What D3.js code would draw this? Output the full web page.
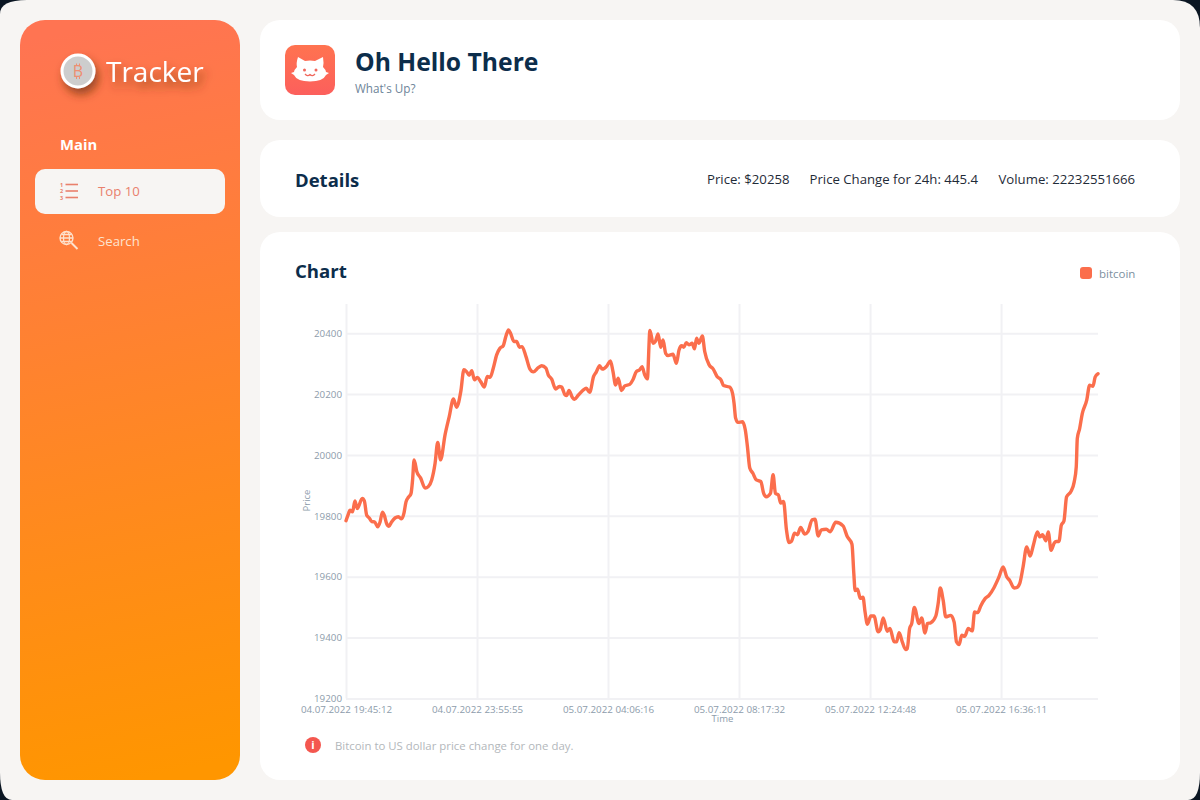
<!DOCTYPE html>
<html>
<head>
<meta charset="utf-8">
<script src="https://cdn.jsdelivr.net/npm/d3@7"></script>
<style>
html, body { margin: 0; padding: 0; background: #0b1622; overflow: hidden; }
svg { display: block; font-family: "Open Sans", sans-serif; }
</style>
</head>
<body>
<script>
const width = 1200
const height = 800

// position of each reading along the 5 minute samples of the day (0 - 287)
const sampleAt = [0,1,1.5,2.5,3.4,4.3,6.2,7,7.9,8.9,9.8,10.9,12.1,13,13.9,14.6,15.5,16.4,17.4,18.7,20,21.2,22.1,22.9,23.9,24.8,25.4,26,27,28.5,30.2,31.4,32.7,34,35,36.1,37.8,39.4,41,42.2,43.8,45,46,47,48,49,50.1,51.4,52.8,53.9,55,56.2,57.5,58.8,60,61,62,62.8,64.1,65.1,66.2,67.2,68.7,70.2,71.5,73.4,74.7,76.3,77.2,78.5,80,81.4,82.3,83.6,84.2,85.1,86.4,87.2,88.7,90.6,91.7,93,94.5,95.5,96.8,97.8,99.6,100.9,101.9,102.9,103.9,105.1,106.4,108.3,109.5,110.8,112.1,113,114,115,116,117.2,118.1,119.1,120.1,121,122,122.9,124.8,126.1,127.1,128.1,128.9,129.9,130.9,132.1,133,133.8,134.7,136,136.9,138.6,140.1,141.6,143.1,144.1,146.4,147.5,148.1,148.7,149.6,151.3,152.4,153.2,154.1,155.3,156.6,158.3,159.4,160.4,162,163,163.9,165,165.9,167,168.1,169.1,170,171.2,172.3,173.5,175.1,176.3,177.9,179,180.2,181.4,183.3,184.8,186.9,189.7,191.3,193.1,193.8,194.3,195.2,196.3,197.3,198.1,199,200.3,201.5,203.1,203.9,205,206.6,207.6,209.2,210.1,211.1,212.3,213.6,214.2,215.1,215.9,216.9,218.7,219.7,221,221.9,223.2,225.1,226,226.8,227.9,228.9,230.8,232.1,233,234,235,236.1,237.5,239,239.9,241.1,242.2,243.9,245.4,247.3,249.2,250.8,252.2,253.3,255,255.9,257.1,258.4,259.8,261.1,262.3,263.9,264.8,265.8,267.1,268,269.1,270.3,271.1,272.1,273,274,275,276.8,277.9,278.7,279.1,280,281,282.7,283.8,285.1,285.9,287]

const priceValues = [19784,19808,19819,19813,19849,19824,19857,19849,19802,19793,19781,19780,19764,19780,19812,19802,19775,19766,19780,19793,19797,19790,19808,19846,19862,19873,19917,19984,19946,19924,19891,19896,19918,19973,20041,19984,20066,20126,20184,20157,20208,20280,20274,20262,20277,20247,20255,20241,20223,20258,20255,20285,20329,20351,20359,20389,20411,20400,20373,20373,20354,20356,20323,20282,20273,20287,20293,20285,20263,20249,20217,20225,20223,20197,20195,20212,20189,20183,20197,20214,20219,20206,20258,20272,20293,20282,20293,20309,20274,20230,20252,20212,20227,20232,20247,20274,20280,20290,20263,20250,20409,20367,20373,20398,20354,20378,20334,20327,20331,20301,20345,20359,20354,20369,20362,20367,20349,20384,20367,20391,20340,20296,20283,20258,20247,20228,20223,20203,20170,20121,20107,20109,20082,20028,19957,19940,19918,19913,19874,19863,19874,19935,19874,19869,19842,19847,19754,19712,19716,19743,19738,19762,19740,19748,19787,19789,19734,19754,19756,19748,19779,19767,19732,19707,19612,19555,19559,19529,19533,19484,19444,19471,19471,19419,19426,19465,19421,19430,19386,19386,19416,19386,19361,19364,19430,19446,19499,19446,19465,19415,19446,19449,19471,19512,19563,19523,19468,19473,19451,19386,19377,19408,19404,19430,19422,19484,19482,19503,19528,19539,19564,19599,19632,19599,19588,19563,19564,19577,19632,19698,19668,19703,19747,19731,19738,19718,19747,19687,19711,19716,19716,19769,19783,19862,19882,19911,19961,20054,20087,20136,20180,20229,20226,20256,20267]

const xTickAt = [0,50,100,150,200,250]
const xTickLabels = ["04.07.2022 19:45:12","04.07.2022 23:55:55","05.07.2022 04:06:16","05.07.2022 08:17:32","05.07.2022 12:24:48","05.07.2022 16:36:11"]
const yTicks = [19200,19400,19600,19800,20000,20200,20400]
const detailTexts = ["Price: $20258","Price Change for 24h: 445.4","Volume: 22232551666"]

const colors = {
    page: "#f7f5f3",
    card: "#fff",
    navy: "#0c2d4b",
    line: "#fb6e4c",
    grid: "#f1f1f4",
    axisText: "#8d9cab",
    navText: "#e9806c",
    navSoft: "#fde3cf"
}

const svg = d3.select("body").append("svg")
    .attr("width", width)
    .attr("height", height)

const defs = svg.append("defs")

const sideGrad = defs.append("linearGradient").attr("id", "side")
    .attr("x1", 0.47).attr("y1", 0).attr("x2", 0.53).attr("y2", 1)
sideGrad.append("stop").attr("offset", "0%").attr("stop-color", "#ff7452")
sideGrad.append("stop").attr("offset", "100%").attr("stop-color", "#ff9600")

const iconGrad = defs.append("linearGradient").attr("id", "icon")
    .attr("x1", 0).attr("y1", 0).attr("x2", 0).attr("y2", 1)
iconGrad.append("stop").attr("offset", "0%").attr("stop-color", "#ff7350")
iconGrad.append("stop").attr("offset", "100%").attr("stop-color", "#fc5f5c")

const shadow = defs.append("filter").attr("id", "soft")
    .attr("x", "-40%").attr("y", "-60%").attr("width", "180%").attr("height", "240%")
shadow.append("feDropShadow")
    .attr("dx", 3).attr("dy", 6).attr("stdDeviation", 5)
    .attr("flood-color", "#6e3018").attr("flood-opacity", .7)

// window shape, corners show through
svg.append("path")
    .attr("fill", colors.page)
    .attr("d", "M27 0 H1173 Q1200 0 1200 28 V772 Q1200 800 1188 800 H12 Q0 800 0 772 V14 Q0 0 27 0 Z")

const card = (x, y, w, h, r, fill) => svg.append("rect")
    .attr("x", x).attr("y", y).attr("width", w).attr("height", h)
    .attr("rx", r).attr("fill", fill)

const label = (x, y, text, size, fill, weight) => svg.append("text")
    .attr("x", x).attr("y", y)
    .attr("font-size", size).attr("fill", fill).attr("font-weight", weight || 400)
    .text(text)

card(20, 20, 220, 760, 25, "url(#side)")
card(260, 20, 920, 100, 20, colors.card)
card(260, 140, 920, 77, 20, colors.card)
card(260, 232, 920, 548, 20, colors.card)

// sidebar logo
const logo = svg.append("g").attr("filter", "url(#soft)")
logo.append("circle").attr("cx", 78).attr("cy", 71).attr("r", 16)
    .attr("fill", "#cdcdcd").attr("stroke", "#fff").attr("stroke-width", 3)
logo.append("text").attr("x", 106).attr("y", 82)
    .attr("font-size", 28).attr("fill", "#fff").text("Tracker")
label(78, 77, "B", 16, "#ee8f72").attr("text-anchor", "middle")
svg.append("path").attr("stroke", "#ee8f72").attr("stroke-width", 1)
    .attr("d", "M76.5 63.5 V66 M79.5 63.5 V66 M76.5 76.5 V79 M79.5 76.5 V79")

label(60, 150, "Main", 14.8, "#fff", 700)

// nav
card(35, 169, 190, 45, 10, colors.page)
label(98, 196, "Top 10", 13.2, colors.navText)
label(98, 246, "Search", 13.2, colors.navSoft)

const listIcon = svg.append("g").attr("stroke", colors.navText).attr("stroke-width", 1.6)
d3.range(3).forEach(i => {
    listIcon.append("line").attr("x1", 65.5).attr("x2", 78)
        .attr("y1", 184.5 + i * 6.5).attr("y2", 184.5 + i * 6.5)
    svg.append("text").attr("x", 60).attr("y", 186.5 + i * 6.5)
        .attr("font-size", 5.5).attr("font-weight", 700).attr("fill", colors.navText)
        .text(i + 1)
})

const searchIcon = svg.append("g").attr("stroke", colors.navSoft).attr("stroke-width", 1.3).attr("fill", "none")
searchIcon.append("circle").attr("cx", 66.5).attr("cy", 238).attr("r", 6.5)
searchIcon.append("ellipse").attr("cx", 66.5).attr("cy", 238).attr("rx", 3).attr("ry", 6.5)
searchIcon.append("path").attr("d", "M60 238 H73 M61.5 234.5 H71.5 M61.5 241.5 H71.5")
searchIcon.append("line").attr("x1", 71.5).attr("y1", 243).attr("x2", 77.5).attr("y2", 249)
    .attr("stroke-width", 2)

// header
card(285, 45, 50, 50, 10, "url(#icon)")
svg.append("path").attr("fill", "#fff")
    .attr("d", "M298 57 L305 61 Q310 60 315 61 L323 57 Q324 63 323 67 Q326 70 326 72 L329 73 L326 75 Q323 81.5 310 81.5 Q297 81.5 294 75 L291 73 L294 72 Q294 70 297 67 Q296 63 298 57 Z")
svg.append("circle").attr("cx", 304.5).attr("cy", 70).attr("r", 1.5).attr("fill", "#f0675c")
svg.append("circle").attr("cx", 316).attr("cy", 70).attr("r", 1.5).attr("fill", "#f0675c")
svg.append("path").attr("fill", "none").attr("stroke", "#f0675c").attr("stroke-width", 1.2)
    .attr("d", "M305 74 Q307.5 77 310 74.5 Q312.5 77 315 74")

label(355, 71, "Oh Hello There", 24.7, colors.navy, 700)
label(355, 93, "What's Up?", 11.7, "#6d8498")

// details
label(295, 187, "Details", 18.5, colors.navy, 700)
const detailX = [707, 809.5, 998.5]
detailTexts.forEach((t, i) => label(detailX[i], 184, t, 13.2, "#1f2b38"))

// chart card
label(295, 278, "Chart", 18.6, colors.navy, 700)
card(1080, 267, 12, 12, 3, colors.line)
label(1099, 278, "bitcoin", 11.5, "#7d90a0")

const x = d3.scaleLinear().domain([0, 287]).range([346, 1098])
const y = d3.scaleLinear().domain([19200, 20496]).range([698.5, 304])

svg.append("g")
    .attr("transform", "translate(0,698.5)")
    .call(d3.axisBottom(x).tickValues(xTickAt)
        .tickSize(-(698.5 - 304))
        .tickPadding(8)
        .tickFormat((d, i) => xTickLabels[i]))
    .call(g => g.select(".domain").remove())
    .call(g => g.selectAll("line").attr("stroke", colors.grid).attr("stroke-width", 2))
    .call(g => g.selectAll("text").attr("fill", colors.axisText).attr("font-size", 9.8).attr("font-family", "Open Sans"))

svg.append("g")
    .attr("transform", "translate(346,0)")
    .call(d3.axisLeft(y).tickValues(yTicks)
        .tickSize(-(1098 - 346))
        .tickPadding(4)
        .tickFormat(d3.format("d")))
    .call(g => g.select(".domain").remove())
    .call(g => g.selectAll("line").attr("stroke", colors.grid).attr("stroke-width", 2))
    .call(g => g.selectAll("text").attr("fill", colors.axisText).attr("font-size", 9.8).attr("font-family", "Open Sans"))

label(722.5, 722, "Time", 9.5, colors.axisText).attr("text-anchor", "middle")
svg.append("text")
    .attr("transform", "translate(310,500.5) rotate(-90)")
    .attr("text-anchor", "middle")
    .attr("font-size", 9.5).attr("fill", colors.axisText)
    .text("Price")

const line = d3.line()
    .x(d => x(d[0]))
    .y(d => y(d[1]))
    .curve(d3.curveMonotoneX)

svg.append("path")
    .datum(d3.zip(sampleAt, priceValues))
    .attr("d", line)
    .attr("fill", "none")
    .attr("stroke", colors.line)
    .attr("stroke-width", 3.4)
    .attr("stroke-linejoin", "round")
    .attr("stroke-linecap", "round")

// footnote
svg.append("circle").attr("cx", 313).attr("cy", 745).attr("r", 8).attr("fill", "#f4574f")
label(313, 749, "i", 11, "#fff", 700).attr("text-anchor", "middle")
label(335, 750, "Bitcoin to US dollar price change for one day.", 11.4, "#b3b7bb")
</script>
</body>
</html>
